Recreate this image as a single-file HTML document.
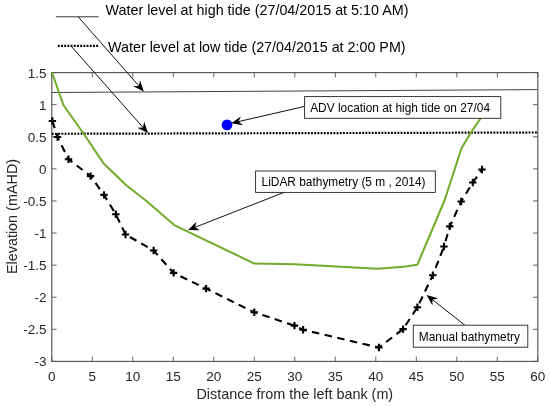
<!DOCTYPE html>
<html><head><meta charset="utf-8"><title>Bathymetry</title>
<style>
html,body{margin:0;padding:0;background:#fff;}
svg{display:block}
text{font-family:"Liberation Sans",sans-serif;fill:#1a1a1a}
.tk{font-size:13.5px;fill:#262626}
.lg{font-size:14.34px;fill:#000}
.lb{font-size:14.4px;fill:#262626}
.an{font-size:11.9px;fill:#000}
</style></head><body>
<svg width="550" height="406" viewBox="0 0 550 406">
<rect width="550" height="406" fill="#fff"/>
<rect x="51.8" y="72.6" width="486.0" height="288.8" fill="none" stroke="#555" stroke-width="1.15"/>
<path d="M51.80 361.4v-4.8M51.80 72.6v4.8" stroke="#555" stroke-width="0.9" fill="none"/>
<text x="51.80" y="380.6" text-anchor="middle" class="tk">0</text>
<path d="M92.30 361.4v-4.8M92.30 72.6v4.8" stroke="#555" stroke-width="0.9" fill="none"/>
<text x="92.30" y="380.6" text-anchor="middle" class="tk">5</text>
<path d="M132.80 361.4v-4.8M132.80 72.6v4.8" stroke="#555" stroke-width="0.9" fill="none"/>
<text x="132.80" y="380.6" text-anchor="middle" class="tk">10</text>
<path d="M173.30 361.4v-4.8M173.30 72.6v4.8" stroke="#555" stroke-width="0.9" fill="none"/>
<text x="173.30" y="380.6" text-anchor="middle" class="tk">15</text>
<path d="M213.80 361.4v-4.8M213.80 72.6v4.8" stroke="#555" stroke-width="0.9" fill="none"/>
<text x="213.80" y="380.6" text-anchor="middle" class="tk">20</text>
<path d="M254.30 361.4v-4.8M254.30 72.6v4.8" stroke="#555" stroke-width="0.9" fill="none"/>
<text x="254.30" y="380.6" text-anchor="middle" class="tk">25</text>
<path d="M294.80 361.4v-4.8M294.80 72.6v4.8" stroke="#555" stroke-width="0.9" fill="none"/>
<text x="294.80" y="380.6" text-anchor="middle" class="tk">30</text>
<path d="M335.30 361.4v-4.8M335.30 72.6v4.8" stroke="#555" stroke-width="0.9" fill="none"/>
<text x="335.30" y="380.6" text-anchor="middle" class="tk">35</text>
<path d="M375.80 361.4v-4.8M375.80 72.6v4.8" stroke="#555" stroke-width="0.9" fill="none"/>
<text x="375.80" y="380.6" text-anchor="middle" class="tk">40</text>
<path d="M416.30 361.4v-4.8M416.30 72.6v4.8" stroke="#555" stroke-width="0.9" fill="none"/>
<text x="416.30" y="380.6" text-anchor="middle" class="tk">45</text>
<path d="M456.80 361.4v-4.8M456.80 72.6v4.8" stroke="#555" stroke-width="0.9" fill="none"/>
<text x="456.80" y="380.6" text-anchor="middle" class="tk">50</text>
<path d="M497.30 361.4v-4.8M497.30 72.6v4.8" stroke="#555" stroke-width="0.9" fill="none"/>
<text x="497.30" y="380.6" text-anchor="middle" class="tk">55</text>
<path d="M537.80 361.4v-4.8M537.80 72.6v4.8" stroke="#555" stroke-width="0.9" fill="none"/>
<text x="537.80" y="380.6" text-anchor="middle" class="tk">60</text>
<path d="M51.8 72.60h4.8M537.8 72.60h-4.8" stroke="#555" stroke-width="0.9" fill="none"/>
<text x="46.6" y="77.50" text-anchor="end" class="tk">1.5</text>
<path d="M51.8 104.69h4.8M537.8 104.69h-4.8" stroke="#555" stroke-width="0.9" fill="none"/>
<text x="46.6" y="109.59" text-anchor="end" class="tk">1</text>
<path d="M51.8 136.78h4.8M537.8 136.78h-4.8" stroke="#555" stroke-width="0.9" fill="none"/>
<text x="46.6" y="141.68" text-anchor="end" class="tk">0.5</text>
<path d="M51.8 168.87h4.8M537.8 168.87h-4.8" stroke="#555" stroke-width="0.9" fill="none"/>
<text x="46.6" y="173.77" text-anchor="end" class="tk">0</text>
<path d="M51.8 200.96h4.8M537.8 200.96h-4.8" stroke="#555" stroke-width="0.9" fill="none"/>
<text x="46.6" y="205.86" text-anchor="end" class="tk">-0.5</text>
<path d="M51.8 233.04h4.8M537.8 233.04h-4.8" stroke="#555" stroke-width="0.9" fill="none"/>
<text x="46.6" y="237.94" text-anchor="end" class="tk">-1</text>
<path d="M51.8 265.13h4.8M537.8 265.13h-4.8" stroke="#555" stroke-width="0.9" fill="none"/>
<text x="46.6" y="270.03" text-anchor="end" class="tk">-1.5</text>
<path d="M51.8 297.22h4.8M537.8 297.22h-4.8" stroke="#555" stroke-width="0.9" fill="none"/>
<text x="46.6" y="302.12" text-anchor="end" class="tk">-2</text>
<path d="M51.8 329.31h4.8M537.8 329.31h-4.8" stroke="#555" stroke-width="0.9" fill="none"/>
<text x="46.6" y="334.21" text-anchor="end" class="tk">-2.5</text>
<path d="M51.8 361.40h4.8M537.8 361.40h-4.8" stroke="#555" stroke-width="0.9" fill="none"/>
<text x="46.6" y="366.30" text-anchor="end" class="tk">-3</text>
<line x1="51.8" y1="92.5" x2="537.8" y2="89.6" stroke="#444" stroke-width="1"/>
<line x1="51.8" y1="133.8" x2="537.8" y2="132.5" stroke="#000" stroke-width="2.2" stroke-dasharray="1.9 1.3"/>
<polyline points="52.0,72.5 63.4,105.0 83.5,133.5 103.6,163.4 125.7,184.7 146.4,201.0 174.2,225.1 254.4,263.6 294.7,264.2 377.5,268.7 403.6,266.8 417.3,264.8 444.5,200.5 461.5,148.3 471.0,132.4 481.2,117.5" fill="none" stroke="#73ab2c" stroke-width="2.05" stroke-linejoin="round"/>
<polyline points="52.4,121.0 57.5,137.0 68.5,159.2 90.6,176.1 104.0,194.9 115.8,214.2 125.5,234.5 153.6,250.5 173.6,272.9 206.1,288.6 254.3,312.3 294.5,325.6 303.1,329.8" fill="none" stroke="#000" stroke-width="2.1" stroke-dasharray="7.5 5.47"/>
<polyline points="303.1,329.8 378.9,347.5 403.1,329.1 417.4,307.3 432.8,275.3 444.0,246.5" fill="none" stroke="#000" stroke-width="2.1" stroke-dasharray="7.5 5.47" stroke-dashoffset="-9.1"/>
<polyline points="444.0,246.5 449.8,226.4 461.2,201.5 472.8,182.5 482.0,169.5" fill="none" stroke="#000" stroke-width="2.1" stroke-dasharray="7.5 5.47" stroke-dashoffset="-5.5"/>
<path d="M48.7 121.0h7.4M52.4 117.3v7.4M53.8 137.0h7.4M57.5 133.3v7.4M64.8 159.2h7.4M68.5 155.5v7.4M86.9 176.1h7.4M90.6 172.4v7.4M100.3 194.9h7.4M104.0 191.2v7.4M112.1 214.2h7.4M115.8 210.5v7.4M121.8 234.5h7.4M125.5 230.8v7.4M149.9 250.5h7.4M153.6 246.8v7.4M169.9 272.9h7.4M173.6 269.2v7.4M202.4 288.6h7.4M206.1 284.9v7.4M250.6 312.3h7.4M254.3 308.6v7.4M290.8 325.6h7.4M294.5 321.9v7.4M299.4 329.8h7.4M303.1 326.1v7.4M375.2 347.5h7.4M378.9 343.8v7.4M399.4 329.1h7.4M403.1 325.4v7.4M413.7 307.3h7.4M417.4 303.6v7.4M429.1 275.3h7.4M432.8 271.6v7.4M440.3 246.5h7.4M444.0 242.8v7.4M446.1 226.4h7.4M449.8 222.7v7.4M457.5 201.5h7.4M461.2 197.8v7.4M469.1 182.5h7.4M472.8 178.8v7.4M478.3 169.5h7.4M482.0 165.8v7.4" stroke="#000" stroke-width="2.1" fill="none"/>
<circle cx="227" cy="124.9" r="5.4" fill="#0000ff"/>
<line x1="55.8" y1="16.8" x2="98.5" y2="16.8" stroke="#333" stroke-width="1"/>
<line x1="57.8" y1="45.8" x2="98.5" y2="45.8" stroke="#000" stroke-width="2.2" stroke-dasharray="1.9 1.3"/>
<text x="105.5" y="14.8" class="lg">Water level at high tide (27/04/2015 at 5:10 AM)</text>
<text x="108.1" y="52.1" class="lg" style="font-size:14.3px">Water level at low tide (27/04/2015 at 2:00 PM)</text>
<line x1="78.2" y1="16.8" x2="138.9" y2="85.9" stroke="#111" stroke-width="1"/><path d="M143.8 91.5L133.1 86.3L138.9 85.9L140.0 80.2Z" fill="#000"/>
<line x1="71" y1="46" x2="143.0" y2="127.4" stroke="#111" stroke-width="1"/><path d="M148.0 133.0L137.3 127.8L143.0 127.4L144.2 121.7Z" fill="#000"/>
<line x1="304.7" y1="106.4" x2="238.5" y2="121.6" stroke="#111" stroke-width="1"/><path d="M231.2 123.3L240.9 116.4L238.5 121.6L243.0 125.3Z" fill="#000"/>
<line x1="285" y1="192" x2="195.0" y2="227.3" stroke="#111" stroke-width="1"/><path d="M188.0 230.0L196.6 221.7L195.0 227.3L199.9 230.3Z" fill="#000"/>
<line x1="464.9" y1="325.2" x2="432.5" y2="299.7" stroke="#111" stroke-width="1"/><path d="M426.6 295.1L438.1 298.3L432.5 299.7L432.4 305.5Z" fill="#000"/>
<rect x="304.6" y="96.6" width="196.2" height="21.700000000000003" fill="#fff" stroke="#222" stroke-width="0.9"/><text x="310.2" y="111.6" class="an">ADV location at high tide on 27/04</text>
<rect x="255.6" y="171" width="179.70000000000002" height="21.400000000000006" fill="#fff" stroke="#222" stroke-width="0.9"/><text x="261.6" y="186" class="an">LiDAR bathymetry (5 m , 2014)</text>
<rect x="413.3" y="325.2" width="114.49999999999994" height="22.0" fill="#fff" stroke="#222" stroke-width="0.9"/><text x="418.8" y="340.5" class="an">Manual bathymetry</text>
<text x="294.8" y="399" text-anchor="middle" class="lb">Distance from the left bank (m)</text>
<text transform="translate(17.2 216.5) rotate(-90)" text-anchor="middle" class="lb">Elevation (mAHD)</text>
</svg>
</body></html>
